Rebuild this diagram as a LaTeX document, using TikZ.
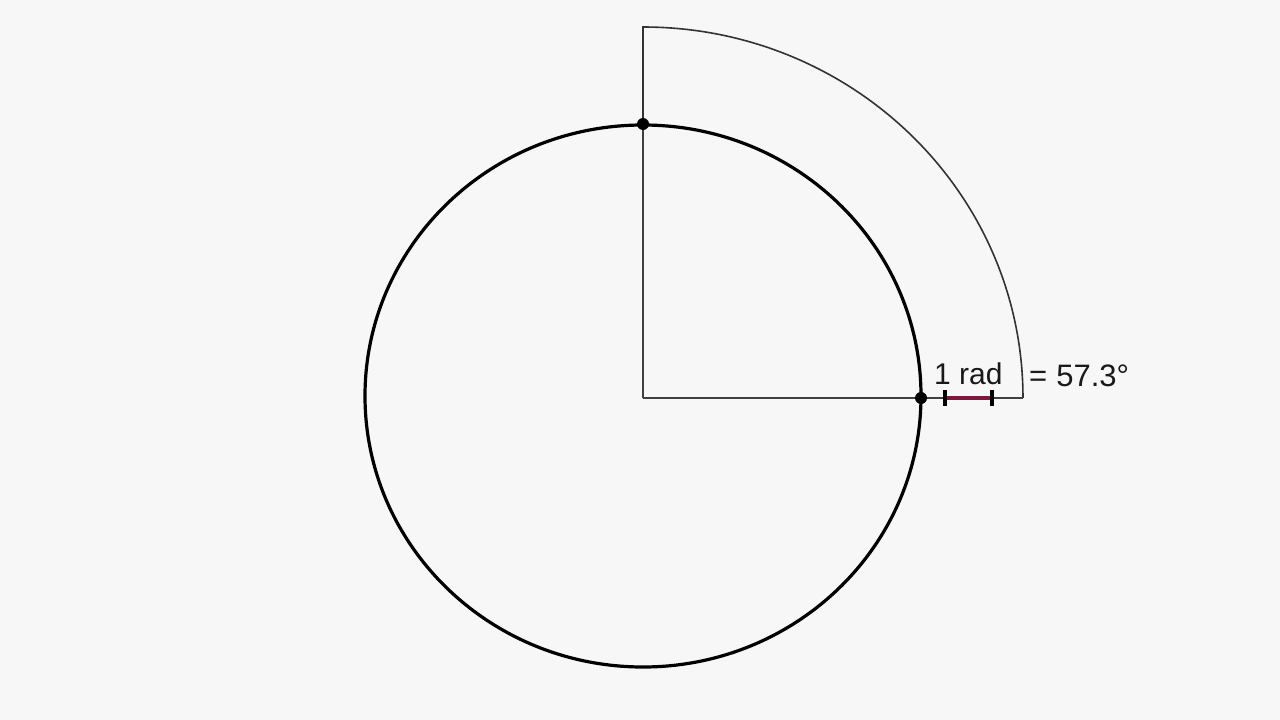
\documentclass[tikz,border=0pt]{standalone}
\usepackage{fontspec}
\setmainfont{Liberation Sans}
\definecolor{bg}{RGB}{247,247,247}
\definecolor{maroon}{RGB}{125,25,65}
\begin{document}
\begin{tikzpicture}[x=1pt,y=-1pt,
  thinline/.style={line width=1.6pt,draw=black!80},
  radline/.style={line width=2.2pt,draw=black!75},
  circline/.style={line width=3.2pt,draw=black},
  dotmark/.style={circle,fill=black,inner sep=0pt,minimum size=12pt},
  tickmark/.style={line width=3.6pt,draw=black},
  lbl/.style={font=\fontsize{30}{32}\selectfont,inner sep=0pt,anchor=base west,text=black!90}]
\fill[bg] (0,0) rectangle (1280,720);
\useasboundingbox (0,0) rectangle (1280,720);
\coordinate (O) at (643,398);
\coordinate (T) at (643,27);
\coordinate (R) at (1023,398);
% outer sector
\draw[thinline] (O) -- (T) arc[start angle=90,end angle=1.2,x radius=380,y radius=-371] -- (R);
\draw[radline] (O) -- (643,125);
\draw[radline] (O) -- (R);
% circle
\draw[circline] (643,396) ellipse[x radius=278,y radius=271];
\node[dotmark] (top) at (643,124) {};
\node[dotmark] (rt) at (921,398) {};
% 1 rad segment
\coordinate (m1) at (945,398);
\coordinate (m2) at (992,398);
\draw[line width=3.6pt,maroon] (m1) -- (m2);
\draw[tickmark] (m1) ++(0,-8) -- ++(0,16);
\draw[tickmark] (m2) ++(0,-8) -- ++(0,16);
\node[lbl] (rad) at (934,384) {1 rad};
\node[lbl,font=\fontsize{31}{33}\selectfont] (deg) at (1029,386) {=\hspace{9pt}57.3°};
\end{tikzpicture}
\end{document}
